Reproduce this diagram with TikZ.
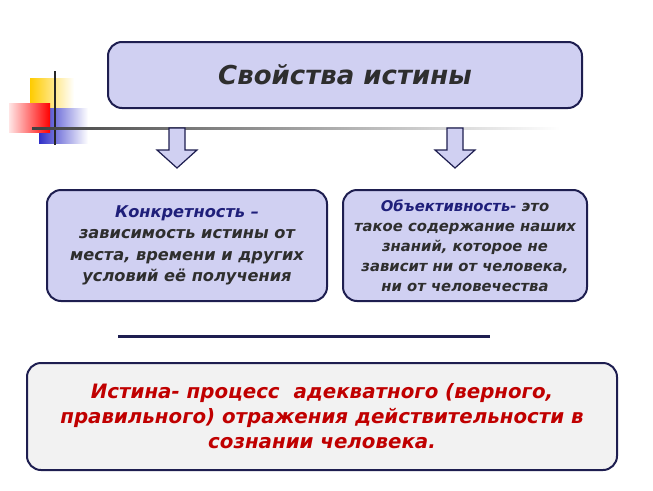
\documentclass[tikz,border=0pt]{standalone}
\usepackage{fontspec}
\setmainfont{DejaVu Sans}
\definecolor{navy}{HTML}{1E1E50}
\definecolor{lav}{HTML}{D0D0F2}
\definecolor{txt}{HTML}{2E2E2E}
\definecolor{blu}{HTML}{1F1F7A}
\definecolor{dred}{HTML}{C00000}
\definecolor{ornyel}{HTML}{FFCC00}
\definecolor{ornblu}{HTML}{2F2FC8}
\tikzset{
  card/.style={draw=navy, line width=2pt, rounded corners=14pt, fill=lav,
    align=center, inner sep=0pt, text=txt, font=\bfseries\itshape},
  blockarrow/.style={draw=navy, line width=1.2pt, fill=lav}
}
\begin{document}
\begin{tikzpicture}[x=1pt,y=-1pt]
\useasboundingbox (0,0) rectangle (653,490);
% corner ornament
\shade[left color=ornyel, right color=white] (30,78) rectangle (74,108);
\shade[left color=ornblu, right color=white] (39,108) rectangle (88,143);
\shade[left color=red!10, right color=red] (9,103) rectangle (50,132);
\draw[line width=1.5pt, black!85] (55,71) -- (55,145);
\shade[left color=black!75, right color=white] (32,127) rectangle (560,129.5);
% boxes
\node[card, minimum width=474pt, minimum height=66pt, font=\fontsize{26}{30}\selectfont\bfseries\itshape]
  (title) at (345,75) {Свойства истины};
\node[card, minimum width=280pt, minimum height=111pt, font=\fontsize{16.2}{21.5}\selectfont\bfseries\itshape]
  (konk) at (187,245.5) {\textcolor{blu}{Конкретность –}\\зависимость истины от\\места, времени и других\\условий её получения};
\node[card, minimum width=244pt, minimum height=111pt, font=\fontsize{14.8}{20}\selectfont\bfseries\itshape]
  (obj) at (465,245.5) {\textcolor{blu}{Объективность-} это\\такое содержание наших\\знаний, которое не\\зависит ни от человека,\\ни от человечества};
\draw[navy, line width=3pt] (118,336) -- (490,336);
\node[card, fill=black!5, minimum width=590pt, minimum height=107pt, text=dred,
  font=\fontsize{19.8}{25}\selectfont\bfseries\itshape]
  (ist) at (322,416.5) {Истина- процесс\ \ адекватного (верного,\\правильного) отражения действительности в\\сознании человека.};
% arrows
\foreach \x in {177,455}
\draw[blockarrow] (\x-8,128) -- (\x+8,128) -- (\x+8,150) -- (\x+20,150)
  -- (\x,168) -- (\x-20,150) -- (\x-8,150) -- cycle;
\end{tikzpicture}
\end{document}
